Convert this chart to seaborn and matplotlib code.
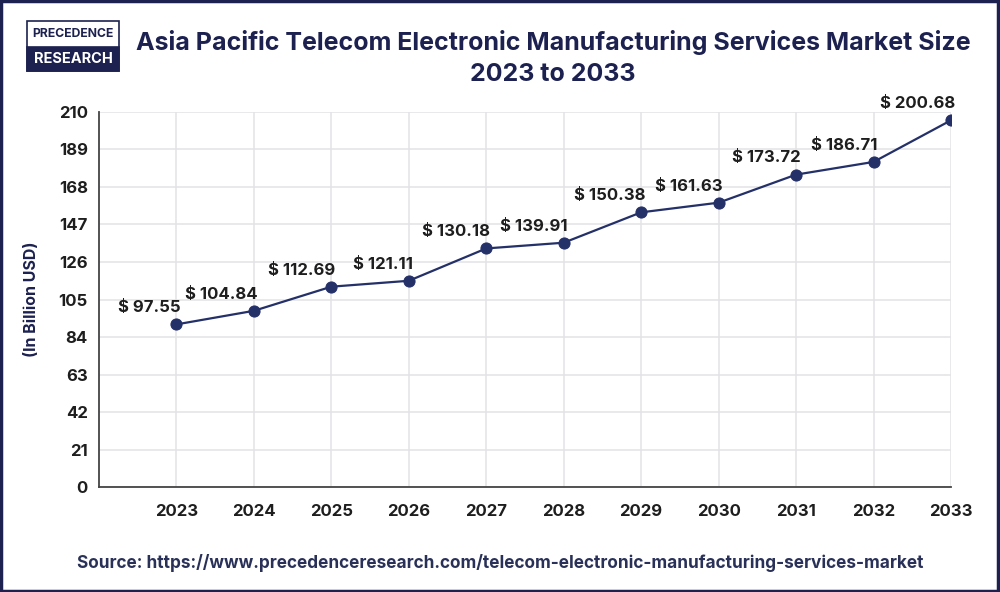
import matplotlib
matplotlib.use("Agg")
import matplotlib.pyplot as plt
import seaborn as sns
import pandas as pd
from matplotlib.patches import Rectangle

# ---- data ----
years = [2023, 2024, 2025, 2026, 2027, 2028, 2029, 2030, 2031, 2032, 2033]
label_values = [97.55, 104.84, 112.69, 121.11, 130.18, 139.91, 150.38, 161.63, 173.72, 186.71, 200.68]
# marker heights as they appear on the reference's y scale
plot_values = [91.1, 98.7, 112.2, 115.5, 133.6, 136.8, 153.8, 159.2, 174.9, 182.0, 205.3]
y_ticks = [0, 21, 42, 63, 84, 105, 126, 147, 168, 189, 210]

title = "Asia Pacific Telecom Electronic Manufacturing Services Market Size\n2023 to 2033"
y_label = "(In Billion USD)"
source = "Source: https://www.precedenceresearch.com/telecom-electronic-manufacturing-services-market"

NAVY = "#1c2150"
MARK = "#243068"
TEXT = "#1e1e1e"

sns.set_theme(style="whitegrid")
plt.rcParams['font.family'] = ['Inter', 'DejaVu Sans']

df = pd.DataFrame({"year": years, "value": plot_values})

fig = plt.figure(figsize=(10, 5.92), dpi=100)
ax = fig.add_axes([0.099, 0.177, 0.852, 0.634])

sns.lineplot(data=df, x="year", y="value", ax=ax, color=MARK, linewidth=1.6,
             marker="o", markersize=8, markeredgecolor=MARK, markerfacecolor=MARK)

ax.set_xlim(2022, 2033)
ax.set_ylim(0, 210)
ax.set_xticks(years)
ax.set_xticklabels([str(y) for y in years])
ax.set_yticks(y_ticks)
ax.set_yticklabels([str(t) for t in y_ticks])
ax.grid(True, color="#e3e3e6", linewidth=1.1)
ax.set_axisbelow(True)
for s in ["top", "right"]:
    ax.spines[s].set_visible(False)
for s in ["left", "bottom"]:
    ax.spines[s].set_color("#444444")
    ax.spines[s].set_linewidth(1.3)
ax.tick_params(axis="both", length=0, labelsize=12, colors=TEXT)
ax.tick_params(axis="x", pad=12)
ax.tick_params(axis="y", pad=8)
for lab in ax.get_xticklabels() + ax.get_yticklabels():
    lab.set_fontweight("bold")
ax.set_xlabel("")
ax.set_ylabel(y_label, fontsize=11.5, fontweight="bold", color=NAVY, labelpad=14)

for x, yv, lv in zip(years, plot_values, label_values):
    ax.annotate(f"$ {lv:.2f}", (x, yv), xytext=(3, 12), textcoords="offset points",
                ha="right", va="center", fontsize=12, fontweight="bold", color=TEXT)

fig.text(0.553, 0.902, title, ha="center", va="center", fontsize=18,
         fontweight="bold", color=NAVY, linespacing=1.45)
fig.text(0.5, 0.049, source, ha="center", va="center", fontsize=12.4,
         fontweight="bold", color="#2a3158")

# logo
fig.patches.append(Rectangle((27/1000, 1-71/592), 92/1000, 50/592, transform=fig.transFigure,
                             facecolor="white", edgecolor=NAVY, linewidth=1.2))
fig.patches.append(Rectangle((27/1000, 1-71/592), 92/1000, 24/592, transform=fig.transFigure,
                             facecolor=NAVY, edgecolor=NAVY, linewidth=1.2))
fig.text(73/1000, 1-34/592, "PRECEDENCE", ha="center", va="center", fontsize=8.8,
         fontweight="bold", color=NAVY)
fig.text(73/1000, 1-59/592, "RESEARCH", ha="center", va="center", fontsize=10.5,
         fontweight="bold", color="white")

# outer border
fig.patches.append(Rectangle((0.001, 0.002), 0.997, 0.996, transform=fig.transFigure,
                             facecolor="none", edgecolor=NAVY, linewidth=2.5))

fig.savefig("out.png", dpi=100)
